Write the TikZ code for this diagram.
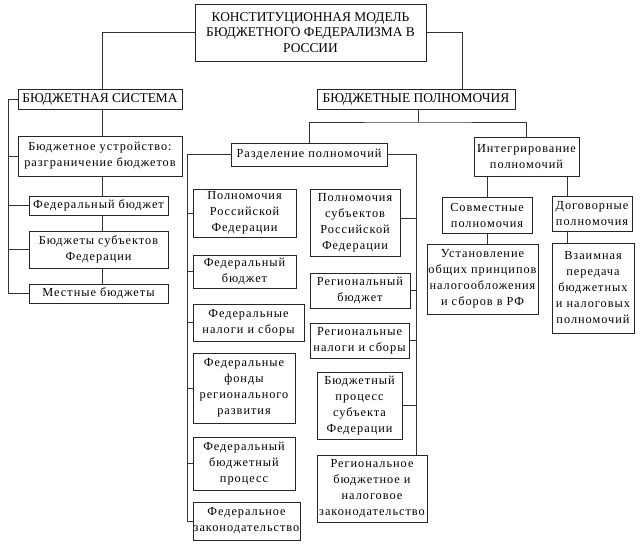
\documentclass[tikz,border=0pt]{standalone}
\usepackage{fontspec}
\setmainfont{Liberation Serif}
\newfontfamily\bxf[LetterSpace=8]{Liberation Serif}
\tikzset{
  bx/.style={draw=black!85, line width=1pt, fill=white, inner sep=0pt, align=center,
    font=\bxf\fontsize{12.3}{16}\selectfont},
  capbx/.style={bx, font=\fontsize{13.4}{15.5}\selectfont},
  ln/.style={draw=black!80, line width=1pt}
}
\newcommand\boxat[7]{%
  \node[#1, minimum width={#5-#3}, minimum height={#6-#4}] (#2) at ({(#3+#5)/2},{(#4+#6)/2}) {#7};}
\begin{document}
\begin{tikzpicture}[x=1pt,y=-1pt]
\useasboundingbox (0,0) rectangle (640,546);
% top
\boxat{capbx}{top}{195}{4}{426}{61}{КОНСТИТУЦИОННАЯ МОДЕЛЬ\\БЮДЖЕТНОГО ФЕДЕРАЛИЗМА В\\РОССИИ}
\boxat{capbx}{bs}{18}{89}{182}{109}{БЮДЖЕТНАЯ СИСТЕМА}
\boxat{capbx}{bp}{317}{89}{515}{109}{БЮДЖЕТНЫЕ ПОЛНОМОЧИЯ}
% left column
\boxat{bx}{bu}{18}{136}{182}{176}{Бюджетное устройство:\\разграничение бюджетов}
\boxat{bx}{fb}{29}{196}{168}{215}{Федеральный бюджет}
\boxat{bx}{bsf}{29}{231}{168}{268}{Бюджеты субъектов\\Федерации}
\boxat{bx}{mb}{29}{284}{168}{303}{Местные бюджеты}
% middle
\boxat{bx}{rp}{231}{143}{387}{166}{Разделение полномочий}
\boxat{bx}{pr}{193}{189}{296}{237}{Полномочия\\Российской\\Федерации}
\boxat{bx}{fbb}{193}{255}{296}{288}{Федеральный\\бюджет}
\boxat{bx}{fn}{193}{304}{304}{341}{Федеральные\\налоги и сборы}
\boxat{bx}{ff}{193}{353}{295}{423}{Федеральные\\фонды\\регионального\\развития}
\boxat{bx}{fbp}{193}{437}{295}{490}{Федеральный\\бюджетный\\процесс}
\boxat{bx}{fz}{193}{502}{300}{540}{Федеральное\\законодательство}
\boxat{bx}{ps}{310}{189}{400}{256}{Полномочия\\субъектов\\Российской\\Федерации}
\boxat{bx}{rb}{310}{273}{410}{308}{Региональный\\бюджет}
\boxat{bx}{rn}{310}{323}{409}{358}{Региональные\\налоги и сборы}
\boxat{bx}{bps}{317}{372}{402}{439}{Бюджетный\\процесс\\субъекта\\Федерации}
\boxat{bx}{rz}{317}{455}{427}{522}{Региональное\\бюджетное и\\налоговое\\законодательство}
% right
\boxat{bx}{ip}{474}{137}{579}{176}{Интегрирование\\полномочий}
\boxat{bx}{sp}{442}{197}{532}{233}{Совместные\\полномочия}
\boxat{bx}{dp}{552}{196}{632}{231}{Договорные\\полномочия}
\boxat{bx}{ust}{427}{244}{538}{314}{Установление\\общих принципов\\налогообложения\\и сборов в РФ}
\boxat{bx}{vz}{552}{243}{634}{333}{Взаимная\\передача\\бюджетных\\и налоговых\\полномочий}
% helper coordinates
\coordinate (lsp) at (102,0);
\coordinate (lb) at (8,0);
\coordinate (xr) at (462,0);
\coordinate (jn) at (418,122);
\coordinate (ml) at (187,0);
\coordinate (mr) at (416,0);
\coordinate (xa) at (487,0);
\coordinate (xb) at (567,0);
% connectors: top
\draw[ln] (top.west) -| (lsp |- bs.north);
\draw[ln] (top.east) -| (xr |- bp.north);
% left column spine
\draw[ln] (bs.south -| lsp) -- (bu.north -| lsp);
\draw[ln] (bu.south -| lsp) -- (fb.north -| lsp);
\draw[ln] (fb.south -| lsp) -- (bsf.north -| lsp);
\draw[ln] (bsf.south -| lsp) -- (mb.north -| lsp);
% left bracket
\draw[ln] (bs.west) -| (lb |- mb.west) -- (mb.west);
\foreach \n in {bu,fb,bsf} \draw[ln] (\n.west) -- (\n.west -| lb);
% powers split
\draw[ln] (bp.south -| jn) -- (jn);
\draw[ln] (rp.north) |- (jn) -| (ip.north);
% middle left bracket
\draw[ln] (rp.west) -| (ml |- fz.west) -- (fz.west);
\foreach \n in {pr,fbb,fn,ff,fbp} \draw[ln] (\n.west) -- (\n.west -| ml);
% middle right bracket
\draw[ln] (rp.east) -| (mr |- rz.north);
\draw[ln] ([yshift=4.5pt]ps.east) -- ([yshift=4.5pt]ps.east -| mr);
\foreach \n in {rb,rn,bps} \draw[ln] (\n.east) -- (\n.east -| mr);
% integration
\draw[ln] (ip.south -| xa) -- (sp.north -| xa);
\draw[ln] (sp.south -| xa) -- (ust.north -| xa);
\draw[ln] (ip.south -| xb) -- (dp.north -| xb);
\draw[ln] (dp.south -| xb) -- (vz.north -| xb);
\end{tikzpicture}
\end{document}
